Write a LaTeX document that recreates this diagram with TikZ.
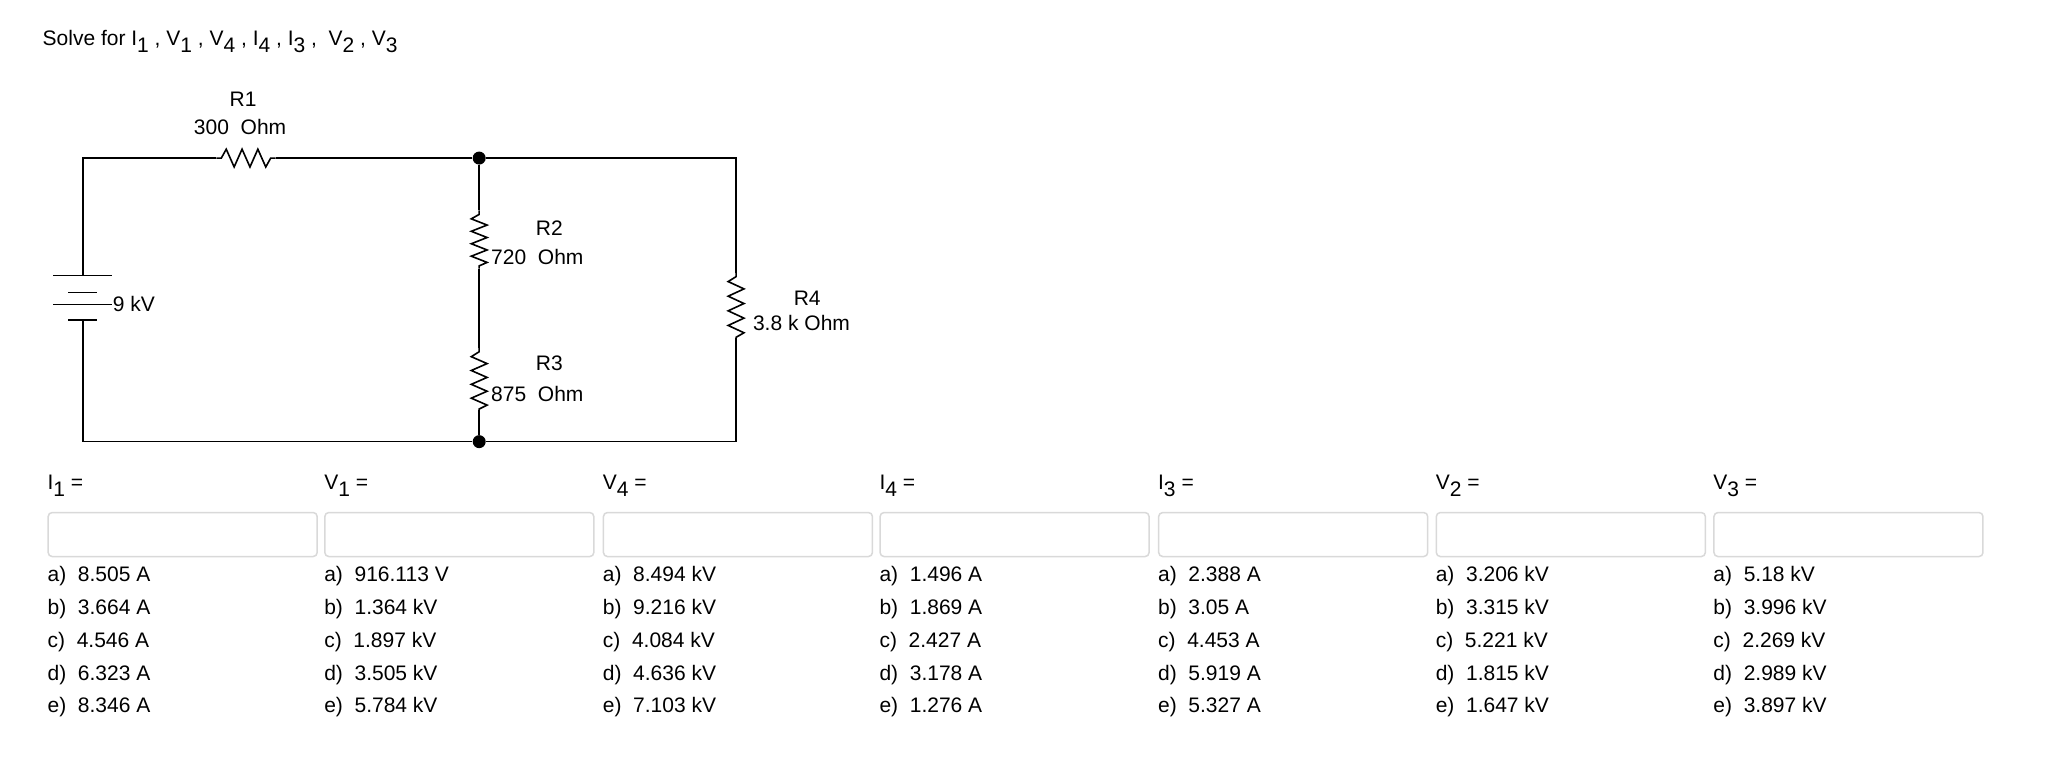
\documentclass[tikz,border=0pt]{standalone}
\usepackage{fontspec}
\setmainfont{Liberation Sans}
\newcommand{\sbx}[1]{\raisebox{-0.32em}{#1}}
\begin{document}
\begin{tikzpicture}[x=0.988pt,y=-0.988pt,
  wire/.style={line width=1.6pt},
  ctext/.style={font=\fontsize{21}{24}\selectfont, inner sep=0pt},
  qtext/.style={font=\fontsize{21}{24}\selectfont, inner sep=0pt, anchor=west},
  ansbox/.style={draw=black!15, line width=1.5pt, rounded corners=4pt, minimum width=269pt, minimum height=44pt, anchor=north west, inner sep=0pt},
  dot/.style={circle, fill=black, minimum size=13pt, inner sep=0pt}]
\useasboundingbox (0,0) rectangle (2085,785.4);
\fill[white] (0,0) rectangle (2085,785.4);
\node[qtext] (title) at (43,42) {Solve for I\sbx{1} , V\sbx{1} , V\sbx{4} , I\sbx{4} , I\sbx{3} ,\ \ V\sbx{2} , V\sbx{3}};
% nodes
\coordinate (TL) at (84,160); \coordinate (BL) at (84,447);
\node[dot] (T) at (485,160) {}; \node[dot] (B) at (485,447) {};
\coordinate (TR) at (745,160); \coordinate (BR) at (745,447);
\coordinate (r1a) at (219,160); \coordinate (r1b) at (279,160);
\coordinate (r2a) at (485,213); \coordinate (r2b) at (485,272);
\coordinate (r3a) at (485,352); \coordinate (r3b) at (485,415);
\coordinate (r4a) at (745,276); \coordinate (r4b) at (745,342);
\coordinate (bt) at (84,279); \coordinate (bb) at (84,324);
% wires
\draw[wire] (bt) -- (TL) -- (r1a);
\draw[wire] (r1a) -- ++(5,0) -- ++(5,-9) -- ++(8,18) -- ++(8,-18) -- ++(8,18) -- ++(8,-18) -- ++(8,18) -- ++(5,-9) -- (r1b);
\draw[wire] (r1b) -- (T) -- (TR) -- (r4a);
\draw[wire] (T) -- (r2a);
\draw[wire] (r2a) -- ++(0,4) -- ++(-8,4.5) -- ++(16,6.3) -- ++(-16,6.3) -- ++(16,6.3) -- ++(-16,6.3) -- ++(16,6.3) -- ++(-16,6.3) -- ++(16,6.3) -- ++(-8,3.5) -- (r2b);
\draw[wire] (r2b) -- (r3a);
\draw[wire] (r3a) -- ++(0,4) -- ++(-8,5) -- ++(16,7) -- ++(-16,7) -- ++(16,7) -- ++(-16,7) -- ++(16,7) -- ++(-16,7) -- ++(16,7) -- ++(-8,4) -- (r3b);
\draw[wire] (r3b) -- (B);
\draw[wire] (r4a) -- ++(0,4) -- ++(-8,5) -- ++(16,7.4) -- ++(-16,7.4) -- ++(16,7.4) -- ++(-16,7.4) -- ++(16,7.4) -- ++(-16,7.4) -- ++(16,7.4) -- ++(-8,4.6) -- (r4b);
\draw[wire] (r4b) -- (BR) -- (B) -- (BL) -- (bb);
% battery
\draw[wire] (54,279) -- (113,279);
\draw[wire] (69,296) -- (98,296);
\draw[wire] (54,308) -- (113,308);
\draw[wire] (69,324) -- (98,324);
\node[ctext, anchor=west] (vs) at (114,308) {9 kV};
% labels
\node[ctext] (l1) at (246,100) {R1};
\node[ctext] (l1v) at (243,129) {300\ \ Ohm};
\node[ctext] (l2) at (556,231) {R2};
\node[ctext, anchor=west] (l2v) at (497,260) {720\ \ Ohm};
\node[ctext] (l3) at (556,368) {R3};
\node[ctext, anchor=west] (l3v) at (497,399) {875\ \ Ohm};
\node[ctext] (l4) at (817,302) {R4};
\node[ctext, anchor=west] (l4v) at (762,327) {3.8 k Ohm};
% answer columns
\foreach \x/\h/\a/\b/\c/\d/\e [count=\i] in {
 48/I\sbx{1} =/8.505 A/3.664 A/4.546 A/6.323 A/8.346 A,
 328/V\sbx{1} =/916.113 V/1.364 kV/1.897 kV/3.505 kV/5.784 kV,
 610/V\sbx{4} =/8.494 kV/9.216 kV/4.084 kV/4.636 kV/7.103 kV,
 890/I\sbx{4} =/1.496 A/1.869 A/2.427 A/3.178 A/1.276 A,
 1172/I\sbx{3} =/2.388 A/3.05 A/4.453 A/5.919 A/5.327 A,
 1453/V\sbx{2} =/3.206 kV/3.315 kV/5.221 kV/1.815 kV/1.647 kV,
 1734/V\sbx{3} =/5.18 kV/3.996 kV/2.269 kV/2.989 kV/3.897 kV}{
  \node[qtext] (h\i) at (\x,492) {\h};
  \node[ansbox] (box\i) at (\x,518) {};
  \node[qtext] (a\i) at (\x,583) {a)\ \ \a};
  \node[qtext] (b\i) at (\x,616) {b)\ \ \b};
  \node[qtext] (c\i) at (\x,650) {c)\ \ \c};
  \node[qtext] (d\i) at (\x,683) {d)\ \ \d};
  \node[qtext] (e\i) at (\x,716) {e)\ \ \e};
}
\end{tikzpicture}
\end{document}
